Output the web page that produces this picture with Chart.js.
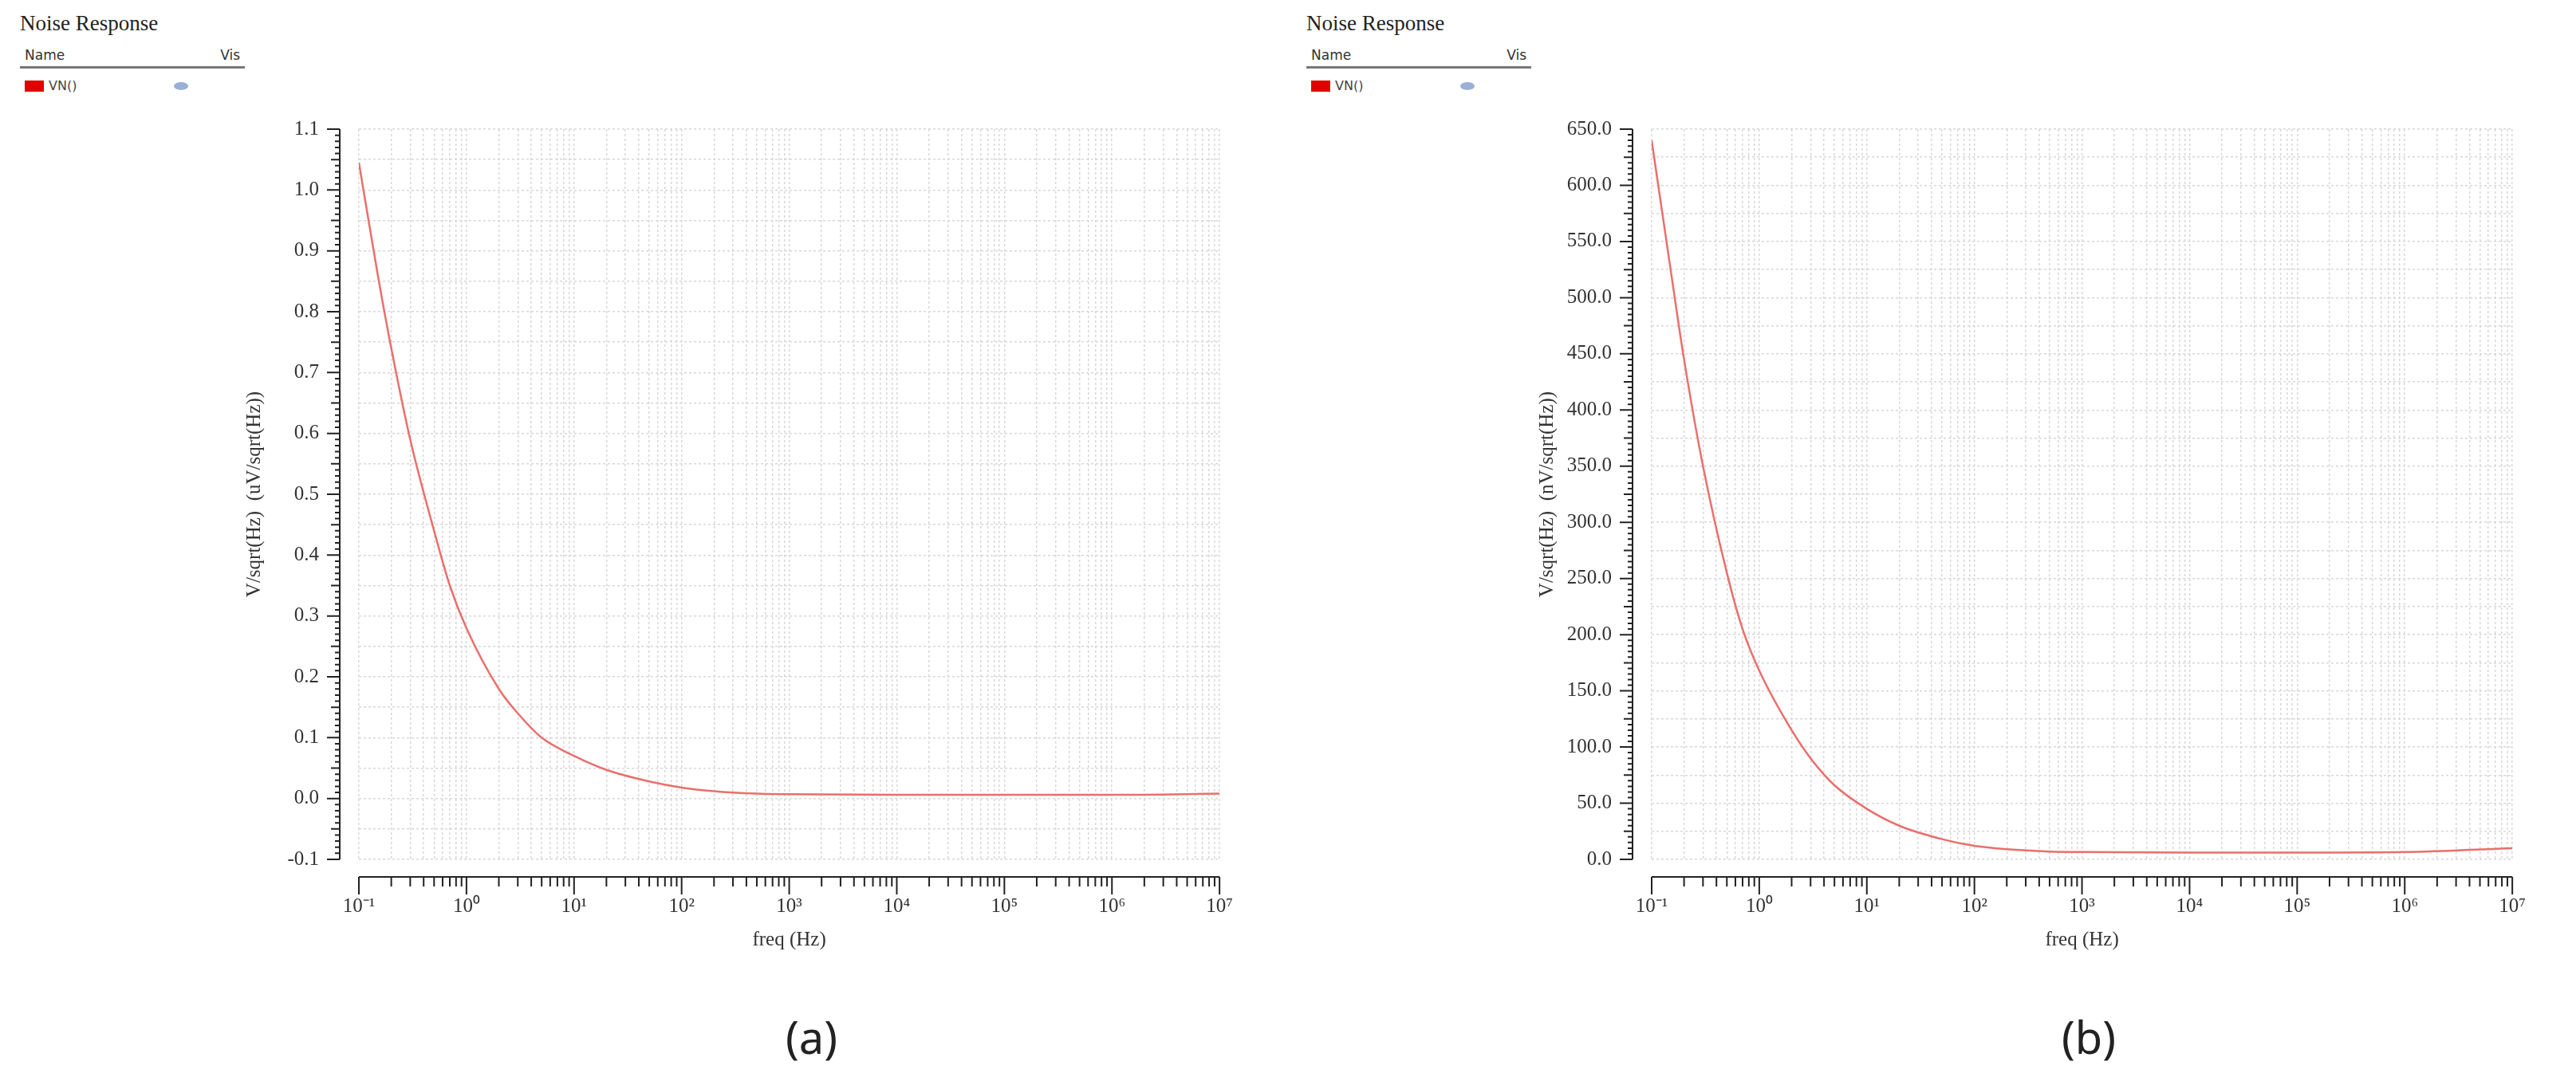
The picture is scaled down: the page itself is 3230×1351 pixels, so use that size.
<!DOCTYPE html>
<html>
<head>
<meta charset="utf-8">
<script src="https://cdn.jsdelivr.net/npm/chart.js@4"></script>
<style>
  body { margin: 0; background: #fff; width: 3230px; height: 1351px; position: relative; overflow: hidden; font-family: "Liberation Serif", serif; }
  .legend { position: absolute; top: 14px; font-size: 27px; color: #222; }
  .legend .hdr { display: flex; justify-content: space-between; width: 270px; font-family: "DejaVu Sans", sans-serif; font-size: 17px; color: #333; margin-top: 14px; padding: 0 6px 4px 6px; border-bottom: 3px solid #777; }
  .legend .row { display: flex; align-items: center; font-family: "DejaVu Sans", sans-serif; font-size: 16px; color: #444; margin-top: 12px; padding-left: 6px; }
  .legend .sw { width: 24px; height: 14px; background: #e00000; margin-right: 6px; }
  .legend .eye { margin-left: 122px; width: 18px; height: 10px; border-radius: 50%; background: #9ab0d6; }
  .cap { position: absolute; top: 1262px; font-family: "Noto Sans", sans-serif; font-size: 56px; color: #222; }
  .box { position: absolute; top: 97px; }
</style>
</head>
<body>
<div class="legend" style="left:25px"><div>Noise Response</div><div class="hdr"><span>Name</span><span>Vis</span></div><div class="row"><div class="sw"></div>VN()<div class="eye"></div></div></div>
<div class="legend" style="left:1638px"><div>Noise Response</div><div class="hdr"><span>Name</span><span>Vis</span></div><div class="row"><div class="sw"></div>VN()<div class="eye"></div></div></div>
<div class="box" style="left:300px"><canvas id="chartA"></canvas></div>
<div class="box" style="left:1921px"><canvas id="chartB"></canvas></div>
<div class="cap" style="left:985px">(a)</div>
<div class="cap" style="left:2585px">(b)</div>
<script>
// frequency points (Hz)
const freqs = [0.1, 0.15, 0.2, 0.3, 0.5, 0.7, 1, 2, 3, 5, 10, 20, 50, 100, 200, 500, 1e3, 1e4, 1e5, 1e6, 1e7];
// (a) uV/sqrt(Hz)
const noiseA = [1.045, 0.86, 0.74, 0.59, 0.44, 0.35, 0.28, 0.18, 0.14, 0.10, 0.07, 0.047, 0.028, 0.018, 0.012, 0.008, 0.007, 0.006, 0.006, 0.006, 0.008];
// (b) nV/sqrt(Hz)
const noiseB = [640, 525, 445, 350, 255, 205, 168, 115, 90, 66, 45, 30, 18, 12, 9, 7, 6.5, 6, 6, 6.5, 10];
const decades = [-1, 0, 1, 2, 3, 4, 5, 6, 7];
const supers = { "-": "\u207B", "0": "\u2070", "1": "\u00B9", "2": "\u00B2", "3": "\u00B3", "4": "\u2074", "5": "\u2075", "6": "\u2076", "7": "\u2077" };

function sup(n) { return String(n).split("").map(c => supers[c]).join(""); }

// small tick marks drawn outside the plot area, like the simulator axes
const outerTicks = {
  id: "outerTicks",
  afterDraw(chart) {
    const { ctx, chartArea: a, scales } = chart;
    ctx.save();
    ctx.strokeStyle = "#222";
    ctx.lineWidth = 2;
    const yAxisX = a.left - 24;
    ctx.beginPath();
    ctx.moveTo(yAxisX, a.top); ctx.lineTo(yAxisX, a.bottom);
    scales.y.ticks.forEach(t => {
      const y = scales.y.getPixelForValue(t.value);
      const len = t.major ? 16 : (t.mid ? 11 : 6);
      ctx.moveTo(yAxisX, y); ctx.lineTo(yAxisX - len, y);
    });
    const xAxisY = a.bottom + 22;
    ctx.moveTo(a.left, xAxisY); ctx.lineTo(a.right, xAxisY);
    scales.x.ticks.forEach(t => {
      const x = scales.x.getPixelForValue(t.value);
      const len = t.major ? 22 : 12;
      ctx.moveTo(x, xAxisY); ctx.lineTo(x, xAxisY + len);
    });
    ctx.stroke();
    ctx.restore();
  }
};

function makeChart(id, values, yMin, yMax, step, minor, title) {
  const ctx = document.getElementById(id);
  ctx.width = 1290; ctx.height = 1101;
  ctx.style.width = "1290px"; ctx.style.height = "1101px";
  return new Chart(ctx, {
    type: "line",
    data: {
      datasets: [{
        data: freqs.map((f, i) => ({ x: f, y: values[i] })),
        borderColor: "#ea6f6c",
        borderWidth: 2.5,
        pointRadius: 0,
        cubicInterpolationMode: "monotone"
      }]
    },
    plugins: [outerTicks],
    options: {
      responsive: false,
      animation: false,
      layout: { padding: { top: 10, right: 13 } },
      plugins: { legend: { display: false }, tooltip: { enabled: false } },
      scales: {
        x: {
          type: "logarithmic",
          min: 0.1, max: 1e7,
          afterFit: s => { s.height = 120; },
          afterBuildTicks: s => {
            const ticks = [];
            decades.forEach(d => {
              for (let m = 1; m <= 9; m++) {
                if (d === 7 && m > 1) break;
                ticks.push({ value: m * Math.pow(10, d), major: m === 1, label: m === 1 ? "10" + sup(d) : "" });
              }
            });
            s.ticks = ticks;
          },
          ticks: {
            autoSkip: false, maxRotation: 0, padding: 44,
            color: "#333", font: { family: "Liberation Serif", size: 25 },
            callback: function (v, i) { return this.ticks[i].label; }
          },
          grid: { color: "#d8d8d8", lineWidth: 1.5, tickLength: 0 },
          border: { display: false, dash: [3, 3] },
          title: { display: true, text: "freq (Hz)", color: "#333", font: { family: "Liberation Serif", size: 25 }, padding: { top: 0 } }
        },
        y: {
          min: yMin, max: yMax,
          afterFit: s => { s.width = 150; },
          afterBuildTicks: s => {
            const ticks = [];
            const n = Math.round((yMax - yMin) / minor);
            const per = Math.round(step / minor);
            for (let i = 0; i <= n; i++) {
              const v = yMin + i * minor;
              ticks.push({ value: v, major: i % per === 0, mid: (2 * i) % per === 0 });
            }
            s.ticks = ticks;
          },
          ticks: {
            autoSkip: false, padding: 50,
            color: "#333", font: { family: "Liberation Serif", size: 25 },
            callback: function (v, i) { return this.ticks[i].major ? v.toFixed(1) : ""; }
          },
          grid: {
            tickLength: 0, lineWidth: 1.5,
            color: c => (c.tick && c.tick.mid) ? "#d8d8d8" : "rgba(0,0,0,0)"
          },
          border: { display: false, dash: [3, 3] },
          title: { display: true, text: title, color: "#333", font: { family: "Liberation Serif", size: 25 }, padding: { bottom: 0 } }
        }
      }
    }
  });
}

makeChart("chartA", noiseA, -0.1, 1.1, 0.1, 0.01, "V/sqrt(Hz)  (uV/sqrt(Hz))");
makeChart("chartB", noiseB, 0, 650, 50, 5, "V/sqrt(Hz)  (nV/sqrt(Hz))");
</script>
</body>
</html>
